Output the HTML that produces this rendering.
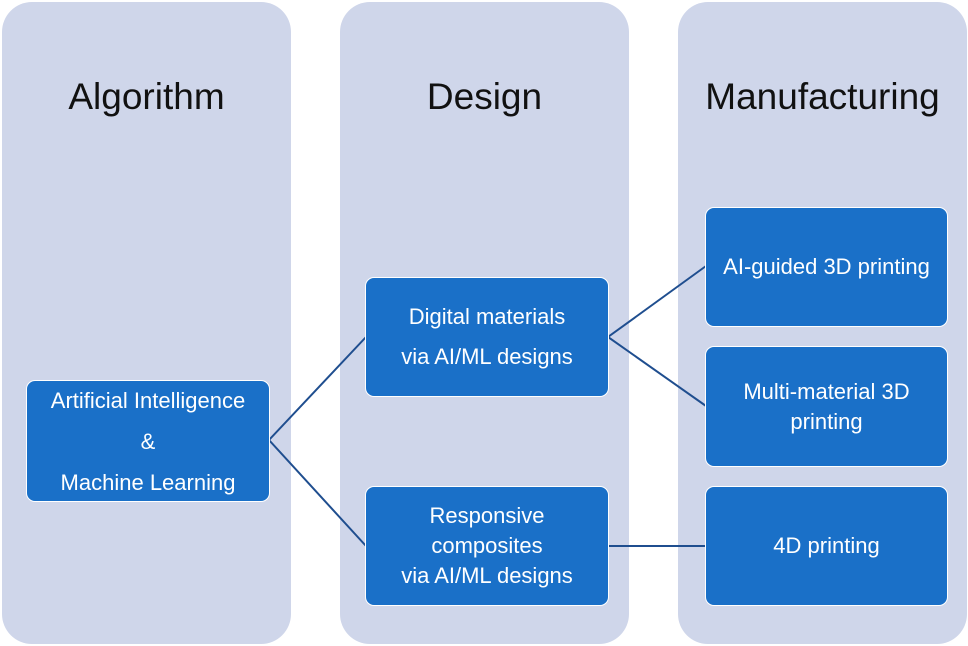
<!DOCTYPE html>
<html><head><style>
body{margin:0;width:968px;height:646px;background:#fff;position:relative;overflow:hidden;font-family:"Liberation Sans","DejaVu Sans",sans-serif}
.col{position:absolute;top:2px;height:642px;width:289px;background:#cfd6ea;border-radius:30px}
.h{position:absolute;top:74px;width:100%;text-align:center;font-size:37px;color:#111}
.b{position:absolute;background:#1a70c8;border:1.5px solid #fff;border-radius:9px;color:#fff;font-size:22px;display:flex;align-items:center;justify-content:center;text-align:center;line-height:30px;box-sizing:border-box}
svg{position:absolute;left:0;top:0}
</style></head><body>
<div class="col" style="left:2px"><div class="h">Algorithm</div></div>
<div class="col" style="left:340px"><div class="h">Design</div></div>
<div class="col" style="left:678px"><div class="h">Manufacturing</div></div>
<svg width="968" height="646"><g stroke="#1f4e8f" stroke-width="2" fill="none">
<polyline points="366,337 269,440 366,546"/>
<polyline points="706,266 608,337 706,406"/>
<line x1="608" y1="546" x2="706" y2="546"/></g></svg>
<div class="b" style="left:26px;top:380px;width:244px;height:122px;line-height:41px">Artificial Intelligence<br>&amp;<br>Machine Learning</div>
<div class="b" style="left:365px;top:277px;width:244px;height:120px;line-height:40px">Digital materials<br>via AI/ML designs</div>
<div class="b" style="left:365px;top:486px;width:244px;height:120px">Responsive<br>composites<br>via AI/ML designs</div>
<div class="b" style="left:705px;top:207px;width:243px;height:120px">AI-guided 3D printing</div>
<div class="b" style="left:705px;top:346px;width:243px;height:121px">Multi-material 3D<br>printing</div>
<div class="b" style="left:705px;top:486px;width:243px;height:120px">4D printing</div>
</body></html>
